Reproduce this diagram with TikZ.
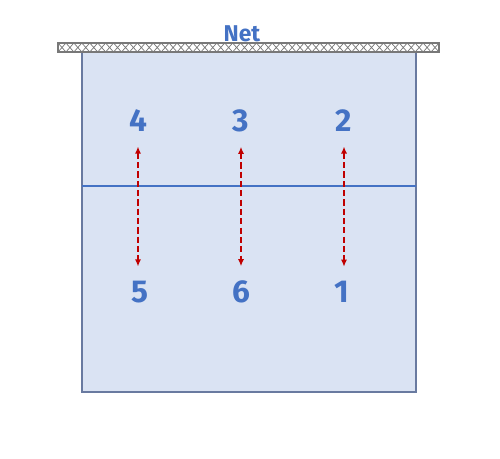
\documentclass[tikz,border=0pt]{standalone}
\usepackage{fontspec}
\setmainfont{Fira Sans}
\usetikzlibrary{arrows.meta}
\definecolor{courtfill}{RGB}{218,227,243}
\definecolor{courtline}{RGB}{105,122,160}
\definecolor{numblue}{RGB}{68,114,196}
\definecolor{swapred}{RGB}{192,0,0}
\definecolor{netgray}{RGB}{120,120,120}
\begin{document}
\begin{tikzpicture}[x=0.02cm,y=-0.02cm,semithick]
\useasboundingbox (0,0) rectangle (500,459);
\tikzset{spot/.style={text=numblue,font=\fontsize{18}{20}\selectfont\bfseries,inner sep=0pt},
rot/.style={draw=swapred,dash pattern=on 3.5pt off 1.8pt,thick,{Latex[length=4pt,width=3.5pt]}-{Latex[length=4pt,width=3.5pt]},shorten <=8pt,shorten >=8pt}}
% court
\draw[courtline,fill=courtfill](82,52)rectangle(416,392);
\draw[numblue](82,186)--(416,186);
% net
\draw[netgray,fill=white](58,43)rectangle(439,52);
\foreach \i in {0,...,47}{
\draw[netgray,thin](58+\i*7.9375,43)--(58+\i*7.9375+7.9375,52)
(58+\i*7.9375,52)--(58+\i*7.9375+7.9375,43);}
\node[text=numblue,font=\fontsize{13}{15}\selectfont\bfseries,inner sep=0pt](net)at(242,34){Net};
% positions
\node[spot](p4)at(138,121){4};
\node[spot](p3)at(241,121){3};
\node[spot](p2)at(344,121){2};
\node[spot](p5)at(140,292){5};
\node[spot](p6)at(241,292){6};
\node[spot](p1)at(342,292){1};
\draw[rot](p4.south)--(p4.south|-p5.north);
\draw[rot](p3.south)--(p6.north);
\draw[rot](p2.south)--(p2.south|-p1.north);
\end{tikzpicture}
\end{document}
